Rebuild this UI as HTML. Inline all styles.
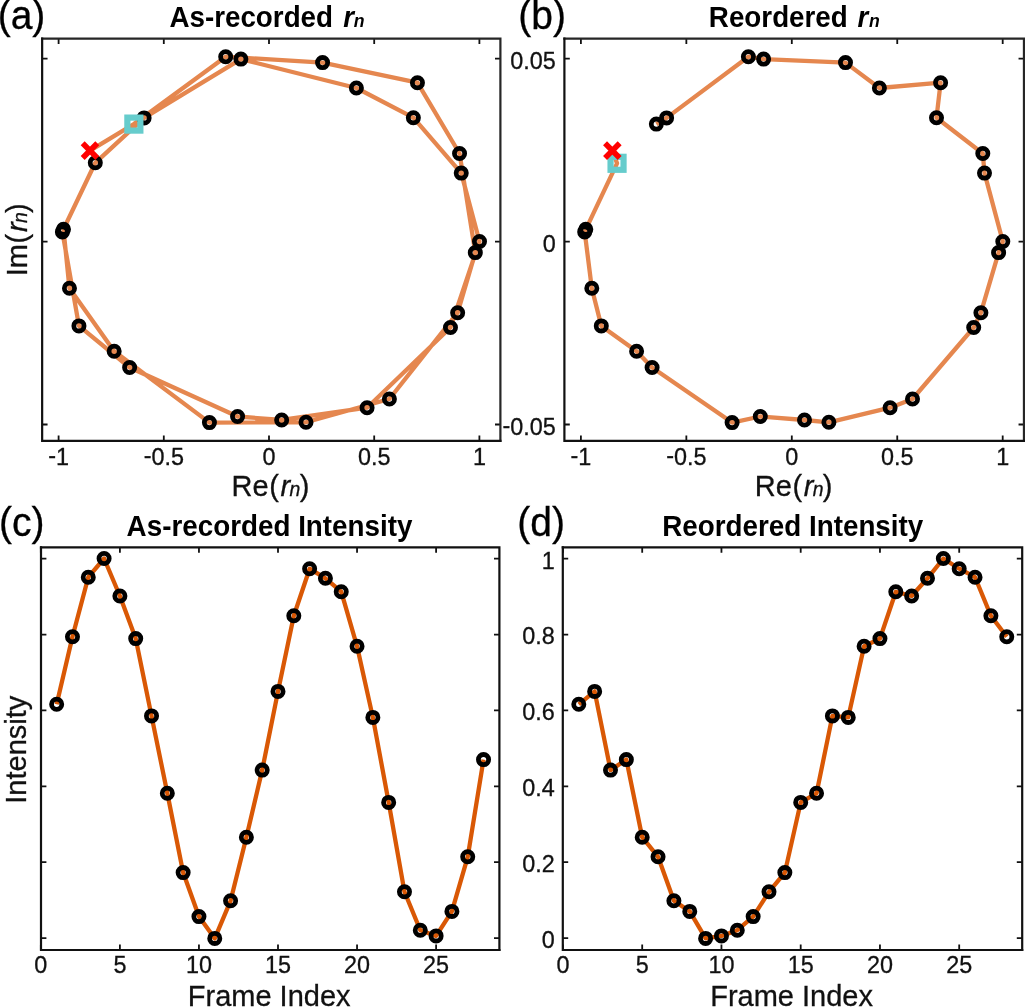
<!DOCTYPE html>
<html><head><meta charset="utf-8"><style>html,body{margin:0;padding:0;background:#fff;}svg{display:block;}</style></head><body>
<svg style="will-change:transform" width="1025" height="1007" viewBox="0 0 1025 1007" font-family="Liberation Sans, sans-serif">
<rect width="1025" height="1007" fill="#fff"/>
<path d="M89.98 150.65 L133.87 124.10 L225.70 56.70 L322.57 62.60 L417.45 82.70 L459.55 153.50 L475.31 252.60 L457.65 312.70 L389.41 399.00 L306.01 422.30 L209.44 422.60 L114.17 351.30 L69.47 288.20 L63.49 229.30 L95.30 162.80 L144.10 117.90 L240.87 59.10 L356.39 88.00 L413.36 117.70 L461.24 173.10 L479.50 241.50 L450.47 327.50 L367.07 407.70 L281.67 420.00 L237.57 416.50 L129.63 367.50 L78.95 325.90 L62.39 231.90" stroke="#E5874F" stroke-width="4.3" fill="none" stroke-linejoin="round" stroke-linecap="butt"/>
<g fill="none" stroke="#000" stroke-width="4.8">
<circle cx="225.70" cy="56.70" r="5.1"/>
<circle cx="322.57" cy="62.60" r="5.1"/>
<circle cx="417.45" cy="82.70" r="5.1"/>
<circle cx="459.55" cy="153.50" r="5.1"/>
<circle cx="475.31" cy="252.60" r="5.1"/>
<circle cx="457.65" cy="312.70" r="5.1"/>
<circle cx="389.41" cy="399.00" r="5.1"/>
<circle cx="306.01" cy="422.30" r="5.1"/>
<circle cx="209.44" cy="422.60" r="5.1"/>
<circle cx="114.17" cy="351.30" r="5.1"/>
<circle cx="69.47" cy="288.20" r="5.1"/>
<circle cx="63.49" cy="229.30" r="5.1"/>
<circle cx="95.30" cy="162.80" r="5.1"/>
<circle cx="144.10" cy="117.90" r="5.1"/>
<circle cx="240.87" cy="59.10" r="5.1"/>
<circle cx="356.39" cy="88.00" r="5.1"/>
<circle cx="413.36" cy="117.70" r="5.1"/>
<circle cx="461.24" cy="173.10" r="5.1"/>
<circle cx="479.50" cy="241.50" r="5.1"/>
<circle cx="450.47" cy="327.50" r="5.1"/>
<circle cx="367.07" cy="407.70" r="5.1"/>
<circle cx="281.67" cy="420.00" r="5.1"/>
<circle cx="237.57" cy="416.50" r="5.1"/>
<circle cx="129.63" cy="367.50" r="5.1"/>
<circle cx="78.95" cy="325.90" r="5.1"/>
<circle cx="62.39" cy="231.90" r="5.1"/>
</g>
<rect x="127.37" y="117.60" width="13.0" height="13.0" fill="none" stroke="#66CCCC" stroke-width="6.2"/>
<path d="M82.68 143.35L97.28 157.95M82.68 157.95L97.28 143.35" stroke="#FF0000" stroke-width="5.6" fill="none"/>
<path d="M612.35 150.65 L617.05 163.30 L585.80 229.30 L584.70 231.90 L591.80 288.20 L601.30 325.90 L636.60 351.30 L652.10 367.50 L732.10 422.60 L760.30 416.50 L804.50 420.00 L828.90 422.30 L890.10 407.70 L912.50 399.00 L973.70 327.50 L980.90 312.70 L998.60 252.60 L1002.80 241.50 L984.50 173.10 L982.80 153.50 L936.50 117.70 L940.60 82.70 L879.40 88.00 L845.50 62.60 L763.60 59.10 L748.40 56.70 L666.60 117.90 L656.35 124.10" stroke="#E5874F" stroke-width="4.3" fill="none" stroke-linejoin="round" stroke-linecap="butt"/>
<g fill="none" stroke="#000" stroke-width="4.8">
<circle cx="585.80" cy="229.30" r="5.1"/>
<circle cx="584.70" cy="231.90" r="5.1"/>
<circle cx="591.80" cy="288.20" r="5.1"/>
<circle cx="601.30" cy="325.90" r="5.1"/>
<circle cx="636.60" cy="351.30" r="5.1"/>
<circle cx="652.10" cy="367.50" r="5.1"/>
<circle cx="732.10" cy="422.60" r="5.1"/>
<circle cx="760.30" cy="416.50" r="5.1"/>
<circle cx="804.50" cy="420.00" r="5.1"/>
<circle cx="828.90" cy="422.30" r="5.1"/>
<circle cx="890.10" cy="407.70" r="5.1"/>
<circle cx="912.50" cy="399.00" r="5.1"/>
<circle cx="973.70" cy="327.50" r="5.1"/>
<circle cx="980.90" cy="312.70" r="5.1"/>
<circle cx="998.60" cy="252.60" r="5.1"/>
<circle cx="1002.80" cy="241.50" r="5.1"/>
<circle cx="984.50" cy="173.10" r="5.1"/>
<circle cx="982.80" cy="153.50" r="5.1"/>
<circle cx="936.50" cy="117.70" r="5.1"/>
<circle cx="940.60" cy="82.70" r="5.1"/>
<circle cx="879.40" cy="88.00" r="5.1"/>
<circle cx="845.50" cy="62.60" r="5.1"/>
<circle cx="763.60" cy="59.10" r="5.1"/>
<circle cx="748.40" cy="56.70" r="5.1"/>
<circle cx="666.60" cy="117.90" r="5.1"/>
<circle cx="656.35" cy="124.10" r="5.1"/>
</g>
<rect x="610.55" y="156.80" width="13.0" height="13.0" fill="none" stroke="#66CCCC" stroke-width="6.2"/>
<path d="M605.05 143.35L619.65 157.95M605.05 157.95L619.65 143.35" stroke="#FF0000" stroke-width="5.6" fill="none"/>
<path d="M56.66 704.30 L72.47 636.70 L88.28 577.20 L104.09 558.50 L119.90 596.00 L135.71 638.60 L151.52 715.90 L167.33 793.30 L183.14 872.60 L198.95 916.60 L214.76 938.40 L230.57 900.80 L246.38 837.20 L262.19 770.10 L278.00 691.40 L293.81 615.70 L309.62 568.70 L325.43 578.30 L341.24 591.70 L357.05 646.30 L372.86 717.40 L388.67 802.40 L404.48 891.80 L420.29 930.20 L436.10 935.90 L451.91 911.40 L467.72 856.80 L483.53 759.60" stroke="#D95805" stroke-width="4.3" fill="none" stroke-linejoin="round"/>
<g fill="none" stroke="#000" stroke-width="4.8">
<circle cx="56.66" cy="704.30" r="5.1"/>
<circle cx="72.47" cy="636.70" r="5.1"/>
<circle cx="88.28" cy="577.20" r="5.1"/>
<circle cx="104.09" cy="558.50" r="5.1"/>
<circle cx="119.90" cy="596.00" r="5.1"/>
<circle cx="135.71" cy="638.60" r="5.1"/>
<circle cx="151.52" cy="715.90" r="5.1"/>
<circle cx="167.33" cy="793.30" r="5.1"/>
<circle cx="183.14" cy="872.60" r="5.1"/>
<circle cx="198.95" cy="916.60" r="5.1"/>
<circle cx="214.76" cy="938.40" r="5.1"/>
<circle cx="230.57" cy="900.80" r="5.1"/>
<circle cx="246.38" cy="837.20" r="5.1"/>
<circle cx="262.19" cy="770.10" r="5.1"/>
<circle cx="278.00" cy="691.40" r="5.1"/>
<circle cx="293.81" cy="615.70" r="5.1"/>
<circle cx="309.62" cy="568.70" r="5.1"/>
<circle cx="325.43" cy="578.30" r="5.1"/>
<circle cx="341.24" cy="591.70" r="5.1"/>
<circle cx="357.05" cy="646.30" r="5.1"/>
<circle cx="372.86" cy="717.40" r="5.1"/>
<circle cx="388.67" cy="802.40" r="5.1"/>
<circle cx="404.48" cy="891.80" r="5.1"/>
<circle cx="420.29" cy="930.20" r="5.1"/>
<circle cx="436.10" cy="935.90" r="5.1"/>
<circle cx="451.91" cy="911.40" r="5.1"/>
<circle cx="467.72" cy="856.80" r="5.1"/>
<circle cx="483.53" cy="759.60" r="5.1"/>
</g>
<path d="M578.80 704.30 L594.65 691.40 L610.50 770.10 L626.35 759.60 L642.20 837.20 L658.05 856.80 L673.90 900.80 L689.75 911.40 L705.60 938.40 L721.45 935.90 L737.30 930.20 L753.15 916.60 L769.00 891.80 L784.85 872.60 L800.70 802.40 L816.55 793.30 L832.40 715.90 L848.25 717.40 L864.10 646.30 L879.95 638.60 L895.80 591.70 L911.65 596.00 L927.50 578.30 L943.35 558.50 L959.20 568.70 L975.05 577.20 L990.90 615.70 L1006.75 636.70" stroke="#D95805" stroke-width="4.3" fill="none" stroke-linejoin="round"/>
<g fill="none" stroke="#000" stroke-width="4.8">
<circle cx="578.80" cy="704.30" r="5.1"/>
<circle cx="594.65" cy="691.40" r="5.1"/>
<circle cx="610.50" cy="770.10" r="5.1"/>
<circle cx="626.35" cy="759.60" r="5.1"/>
<circle cx="642.20" cy="837.20" r="5.1"/>
<circle cx="658.05" cy="856.80" r="5.1"/>
<circle cx="673.90" cy="900.80" r="5.1"/>
<circle cx="689.75" cy="911.40" r="5.1"/>
<circle cx="705.60" cy="938.40" r="5.1"/>
<circle cx="721.45" cy="935.90" r="5.1"/>
<circle cx="737.30" cy="930.20" r="5.1"/>
<circle cx="753.15" cy="916.60" r="5.1"/>
<circle cx="769.00" cy="891.80" r="5.1"/>
<circle cx="784.85" cy="872.60" r="5.1"/>
<circle cx="800.70" cy="802.40" r="5.1"/>
<circle cx="816.55" cy="793.30" r="5.1"/>
<circle cx="832.40" cy="715.90" r="5.1"/>
<circle cx="848.25" cy="717.40" r="5.1"/>
<circle cx="864.10" cy="646.30" r="5.1"/>
<circle cx="879.95" cy="638.60" r="5.1"/>
<circle cx="895.80" cy="591.70" r="5.1"/>
<circle cx="911.65" cy="596.00" r="5.1"/>
<circle cx="927.50" cy="578.30" r="5.1"/>
<circle cx="943.35" cy="558.50" r="5.1"/>
<circle cx="959.20" cy="568.70" r="5.1"/>
<circle cx="975.05" cy="577.20" r="5.1"/>
<circle cx="990.90" cy="615.70" r="5.1"/>
<circle cx="1006.75" cy="636.70" r="5.1"/>
</g>
<path d="M58.60 440.85V435.45M58.60 38.55V43.95M163.80 440.85V435.45M163.80 38.55V43.95M269.00 440.85V435.45M269.00 38.55V43.95M374.20 440.85V435.45M374.20 38.55V43.95M479.40 440.85V435.45M479.40 38.55V43.95M42.15 58.70H47.55M500.40 58.70H495.00M42.15 241.60H47.55M500.40 241.60H495.00M42.15 424.50H47.55M500.40 424.50H495.00" stroke="#111111" stroke-width="1.8" fill="none"/>
<path d="M42.15 38.55H500.40V440.85" stroke="#262626" stroke-width="2.2" fill="none" stroke-linecap="square"/>
<path d="M42.15 38.55V440.85H500.40" stroke="#111111" stroke-width="2.2" fill="none" stroke-linecap="square"/>
<path d="M580.90 440.85V435.45M580.90 38.55V43.95M686.35 440.85V435.45M686.35 38.55V43.95M791.80 440.85V435.45M791.80 38.55V43.95M897.25 440.85V435.45M897.25 38.55V43.95M1002.70 440.85V435.45M1002.70 38.55V43.95M564.40 58.70H569.80M1023.95 58.70H1018.55M564.40 241.60H569.80M1023.95 241.60H1018.55M564.40 424.50H569.80M1023.95 424.50H1018.55" stroke="#111111" stroke-width="1.8" fill="none"/>
<path d="M564.40 38.55H1023.95V440.85" stroke="#262626" stroke-width="2.2" fill="none" stroke-linecap="square"/>
<path d="M564.40 38.55V440.85H1023.95" stroke="#111111" stroke-width="2.2" fill="none" stroke-linecap="square"/>
<path d="M40.85 950.00V944.60M40.85 547.30V552.70M119.90 950.00V944.60M119.90 547.30V552.70M198.95 950.00V944.60M198.95 547.30V552.70M278.00 950.00V944.60M278.00 547.30V552.70M357.05 950.00V944.60M357.05 547.30V552.70M436.10 950.00V944.60M436.10 547.30V552.70M41.00 938.10H46.40M499.40 938.10H494.00M41.00 862.22H46.40M499.40 862.22H494.00M41.00 786.34H46.40M499.40 786.34H494.00M41.00 710.46H46.40M499.40 710.46H494.00M41.00 634.58H46.40M499.40 634.58H494.00M41.00 558.70H46.40M499.40 558.70H494.00" stroke="#111111" stroke-width="1.8" fill="none"/>
<path d="M41.00 547.30H499.40V950.00" stroke="#111111" stroke-width="2.2" fill="none" stroke-linecap="square"/>
<path d="M41.00 547.30V950.00H499.40" stroke="#111111" stroke-width="2.2" fill="none" stroke-linecap="square"/>
<path d="M562.95 950.00V944.60M562.95 547.30V552.70M642.20 950.00V944.60M642.20 547.30V552.70M721.45 950.00V944.60M721.45 547.30V552.70M800.70 950.00V944.60M800.70 547.30V552.70M879.95 950.00V944.60M879.95 547.30V552.70M959.20 950.00V944.60M959.20 547.30V552.70M562.80 938.10H568.20M1022.20 938.10H1016.80M562.80 862.22H568.20M1022.20 862.22H1016.80M562.80 786.34H568.20M1022.20 786.34H1016.80M562.80 710.46H568.20M1022.20 710.46H1016.80M562.80 634.58H568.20M1022.20 634.58H1016.80M562.80 558.70H568.20M1022.20 558.70H1016.80" stroke="#111111" stroke-width="1.8" fill="none"/>
<path d="M562.80 547.30H1022.20V950.00" stroke="#111111" stroke-width="2.2" fill="none" stroke-linecap="square"/>
<path d="M562.80 547.30V950.00H1022.20" stroke="#111111" stroke-width="2.2" fill="none" stroke-linecap="square"/>
<g transform="translate(58.60,464.90) scale(1,1.025)"><text x="0" y="0" font-size="23.4" text-anchor="middle" font-weight="normal" font-style="normal" fill="#111111" stroke="#111111" stroke-width="0.3" ><tspan dy="-1.5">-</tspan><tspan dy="1.5">1</tspan></text></g>
<g transform="translate(163.80,464.90) scale(1,1.025)"><text x="0" y="0" font-size="23.4" text-anchor="middle" font-weight="normal" font-style="normal" fill="#111111" stroke="#111111" stroke-width="0.3" ><tspan dy="-1.5">-</tspan><tspan dy="1.5">0.5</tspan></text></g>
<g transform="translate(269.00,464.90) scale(1,1.025)"><text x="0" y="0" font-size="23.4" text-anchor="middle" font-weight="normal" font-style="normal" fill="#111111" stroke="#111111" stroke-width="0.3" >0</text></g>
<g transform="translate(374.20,464.90) scale(1,1.025)"><text x="0" y="0" font-size="23.4" text-anchor="middle" font-weight="normal" font-style="normal" fill="#111111" stroke="#111111" stroke-width="0.3" >0.5</text></g>
<g transform="translate(479.40,464.90) scale(1,1.025)"><text x="0" y="0" font-size="23.4" text-anchor="middle" font-weight="normal" font-style="normal" fill="#111111" stroke="#111111" stroke-width="0.3" >1</text></g>
<g transform="translate(580.90,464.90) scale(1,1.025)"><text x="0" y="0" font-size="23.4" text-anchor="middle" font-weight="normal" font-style="normal" fill="#111111" stroke="#111111" stroke-width="0.3" ><tspan dy="-1.5">-</tspan><tspan dy="1.5">1</tspan></text></g>
<g transform="translate(686.35,464.90) scale(1,1.025)"><text x="0" y="0" font-size="23.4" text-anchor="middle" font-weight="normal" font-style="normal" fill="#111111" stroke="#111111" stroke-width="0.3" ><tspan dy="-1.5">-</tspan><tspan dy="1.5">0.5</tspan></text></g>
<g transform="translate(791.80,464.90) scale(1,1.025)"><text x="0" y="0" font-size="23.4" text-anchor="middle" font-weight="normal" font-style="normal" fill="#111111" stroke="#111111" stroke-width="0.3" >0</text></g>
<g transform="translate(897.25,464.90) scale(1,1.025)"><text x="0" y="0" font-size="23.4" text-anchor="middle" font-weight="normal" font-style="normal" fill="#111111" stroke="#111111" stroke-width="0.3" >0.5</text></g>
<g transform="translate(1002.70,464.90) scale(1,1.025)"><text x="0" y="0" font-size="23.4" text-anchor="middle" font-weight="normal" font-style="normal" fill="#111111" stroke="#111111" stroke-width="0.3" >1</text></g>
<g transform="translate(40.85,972.60) scale(1,1.025)"><text x="0" y="0" font-size="23.4" text-anchor="middle" font-weight="normal" font-style="normal" fill="#111111" stroke="#111111" stroke-width="0.3" >0</text></g>
<g transform="translate(119.90,972.60) scale(1,1.025)"><text x="0" y="0" font-size="23.4" text-anchor="middle" font-weight="normal" font-style="normal" fill="#111111" stroke="#111111" stroke-width="0.3" >5</text></g>
<g transform="translate(198.95,972.60) scale(1,1.025)"><text x="0" y="0" font-size="23.4" text-anchor="middle" font-weight="normal" font-style="normal" fill="#111111" stroke="#111111" stroke-width="0.3" >10</text></g>
<g transform="translate(278.00,972.60) scale(1,1.025)"><text x="0" y="0" font-size="23.4" text-anchor="middle" font-weight="normal" font-style="normal" fill="#111111" stroke="#111111" stroke-width="0.3" >15</text></g>
<g transform="translate(357.05,972.60) scale(1,1.025)"><text x="0" y="0" font-size="23.4" text-anchor="middle" font-weight="normal" font-style="normal" fill="#111111" stroke="#111111" stroke-width="0.3" >20</text></g>
<g transform="translate(436.10,972.60) scale(1,1.025)"><text x="0" y="0" font-size="23.4" text-anchor="middle" font-weight="normal" font-style="normal" fill="#111111" stroke="#111111" stroke-width="0.3" >25</text></g>
<g transform="translate(562.95,972.60) scale(1,1.025)"><text x="0" y="0" font-size="23.4" text-anchor="middle" font-weight="normal" font-style="normal" fill="#111111" stroke="#111111" stroke-width="0.3" >0</text></g>
<g transform="translate(642.20,972.60) scale(1,1.025)"><text x="0" y="0" font-size="23.4" text-anchor="middle" font-weight="normal" font-style="normal" fill="#111111" stroke="#111111" stroke-width="0.3" >5</text></g>
<g transform="translate(721.45,972.60) scale(1,1.025)"><text x="0" y="0" font-size="23.4" text-anchor="middle" font-weight="normal" font-style="normal" fill="#111111" stroke="#111111" stroke-width="0.3" >10</text></g>
<g transform="translate(800.70,972.60) scale(1,1.025)"><text x="0" y="0" font-size="23.4" text-anchor="middle" font-weight="normal" font-style="normal" fill="#111111" stroke="#111111" stroke-width="0.3" >15</text></g>
<g transform="translate(879.95,972.60) scale(1,1.025)"><text x="0" y="0" font-size="23.4" text-anchor="middle" font-weight="normal" font-style="normal" fill="#111111" stroke="#111111" stroke-width="0.3" >20</text></g>
<g transform="translate(959.20,972.60) scale(1,1.025)"><text x="0" y="0" font-size="23.4" text-anchor="middle" font-weight="normal" font-style="normal" fill="#111111" stroke="#111111" stroke-width="0.3" >25</text></g>
<g transform="translate(555.80,68.80) scale(1,1.025)"><text x="0" y="0" font-size="23.4" text-anchor="end" font-weight="normal" font-style="normal" fill="#111111" stroke="#111111" stroke-width="0.3" >0.05</text></g>
<g transform="translate(555.80,251.70) scale(1,1.025)"><text x="0" y="0" font-size="23.4" text-anchor="end" font-weight="normal" font-style="normal" fill="#111111" stroke="#111111" stroke-width="0.3" >0</text></g>
<g transform="translate(555.80,434.60) scale(1,1.025)"><text x="0" y="0" font-size="23.4" text-anchor="end" font-weight="normal" font-style="normal" fill="#111111" stroke="#111111" stroke-width="0.3" ><tspan dy="-1.5">-</tspan><tspan dy="1.5">0.05</tspan></text></g>
<g transform="translate(554.70,948.00) scale(1,1.025)"><text x="0" y="0" font-size="23.4" text-anchor="end" font-weight="normal" font-style="normal" fill="#111111" stroke="#111111" stroke-width="0.3" >0</text></g>
<g transform="translate(554.70,872.12) scale(1,1.025)"><text x="0" y="0" font-size="23.4" text-anchor="end" font-weight="normal" font-style="normal" fill="#111111" stroke="#111111" stroke-width="0.3" >0.2</text></g>
<g transform="translate(554.70,796.24) scale(1,1.025)"><text x="0" y="0" font-size="23.4" text-anchor="end" font-weight="normal" font-style="normal" fill="#111111" stroke="#111111" stroke-width="0.3" >0.4</text></g>
<g transform="translate(554.70,720.36) scale(1,1.025)"><text x="0" y="0" font-size="23.4" text-anchor="end" font-weight="normal" font-style="normal" fill="#111111" stroke="#111111" stroke-width="0.3" >0.6</text></g>
<g transform="translate(554.70,644.48) scale(1,1.025)"><text x="0" y="0" font-size="23.4" text-anchor="end" font-weight="normal" font-style="normal" fill="#111111" stroke="#111111" stroke-width="0.3" >0.8</text></g>
<g transform="translate(554.70,568.60) scale(1,1.025)"><text x="0" y="0" font-size="23.4" text-anchor="end" font-weight="normal" font-style="normal" fill="#111111" stroke="#111111" stroke-width="0.3" >1</text></g>
<g transform="translate(45.32,28.60) scale(1,1.05)"><text x="0" y="0" font-size="39" text-anchor="end" font-weight="normal" font-style="normal" fill="#000" stroke="#000" stroke-width="0.3" >(a)</text></g>
<g transform="translate(566.02,28.60) scale(1,1.05)"><text x="0" y="0" font-size="39" text-anchor="end" font-weight="normal" font-style="normal" fill="#000" stroke="#000" stroke-width="0.3" >(b)</text></g>
<g transform="translate(44.52,535.60) scale(1,1.05)"><text x="0" y="0" font-size="39" text-anchor="end" font-weight="normal" font-style="normal" fill="#000" stroke="#000" stroke-width="0.3" >(c)</text></g>
<g transform="translate(565.02,535.60) scale(1,1.05)"><text x="0" y="0" font-size="39" text-anchor="end" font-weight="normal" font-style="normal" fill="#000" stroke="#000" stroke-width="0.3" >(d)</text></g>
<g transform="translate(169.41,27.0) scale(1.007,1.05)"><text y="0" x="0" font-size="27.6" font-weight="bold" fill="#000">As-recorded</text></g>
<g transform="translate(0,27.0) scale(1,1.05)"><text y="0" font-size="27.6" font-weight="bold" fill="#000"><tspan font-style="italic" x="343.20">r</tspan><tspan font-style="italic" font-size="17.66" x="353.80">n</tspan></text></g>
<g transform="translate(708.85,27.0) scale(1.007,1.05)"><text y="0" x="0" font-size="27.6" font-weight="bold" fill="#000">Reordered</text></g>
<g transform="translate(0,27.0) scale(1,1.05)"><text y="0" font-size="27.6" font-weight="bold" fill="#000"><tspan font-style="italic" x="857.50">r</tspan><tspan font-style="italic" font-size="17.66" x="869.00">n</tspan></text></g>
<g transform="translate(126.61,535.9) scale(1.008,1.05)"><text y="0" x="0" font-size="27.6" font-weight="bold" fill="#000">As-recorded Intensity</text></g>
<g transform="translate(662.15,535.9) scale(1.008,1.05)"><text y="0" x="0" font-size="27.6" font-weight="bold" fill="#000">Reordered Intensity</text></g>
<g transform="translate(0,495.8) scale(1,1.03)"><text y="0" font-size="29" fill="#111111" stroke="#111111" stroke-width="0.3"><tspan x="231.62">Re</tspan><tspan x="269.20">(</tspan><tspan font-style="italic" x="280.62">r</tspan><tspan font-style="italic" font-size="19.43" x="289.58">n</tspan><tspan x="299.64">)</tspan></text></g>
<g transform="translate(0,495.8) scale(1,1.03)"><text y="0" font-size="29" fill="#111111" stroke="#111111" stroke-width="0.3"><tspan x="754.82">Re</tspan><tspan x="792.40">(</tspan><tspan font-style="italic" x="803.82">r</tspan><tspan font-style="italic" font-size="19.43" x="812.78">n</tspan><tspan x="822.84">)</tspan></text></g>
<g transform="translate(27.1,273.6) rotate(-90)"><g transform="translate(0,0) scale(1,1.03)"><text y="0" font-size="29" fill="#111111" stroke="#111111" stroke-width="0.3"><tspan x="-2.68">Im</tspan><tspan x="30.20">(</tspan><tspan font-style="italic" x="41.62">r</tspan><tspan font-style="italic" font-size="19.43" x="50.58">n</tspan><tspan x="60.64">)</tspan></text></g></g>
<g transform="translate(187.82,1005.60) scale(1,1.03)"><text x="0" y="0" font-size="29" text-anchor="start" font-weight="normal" font-style="normal" fill="#111111" stroke="#111111" stroke-width="0.3" >Frame Index</text></g>
<g transform="translate(710.22,1005.60) scale(1,1.03)"><text x="0" y="0" font-size="29" text-anchor="start" font-weight="normal" font-style="normal" fill="#111111" stroke="#111111" stroke-width="0.3" >Frame Index</text></g>
<g transform="translate(26.2,801.0) rotate(-90) scale(1,1.03)"><text x="-2.68" y="0" font-size="29" fill="#111111" stroke="#111111" stroke-width="0.3">Intensity</text></g>
</svg>
</body></html>
